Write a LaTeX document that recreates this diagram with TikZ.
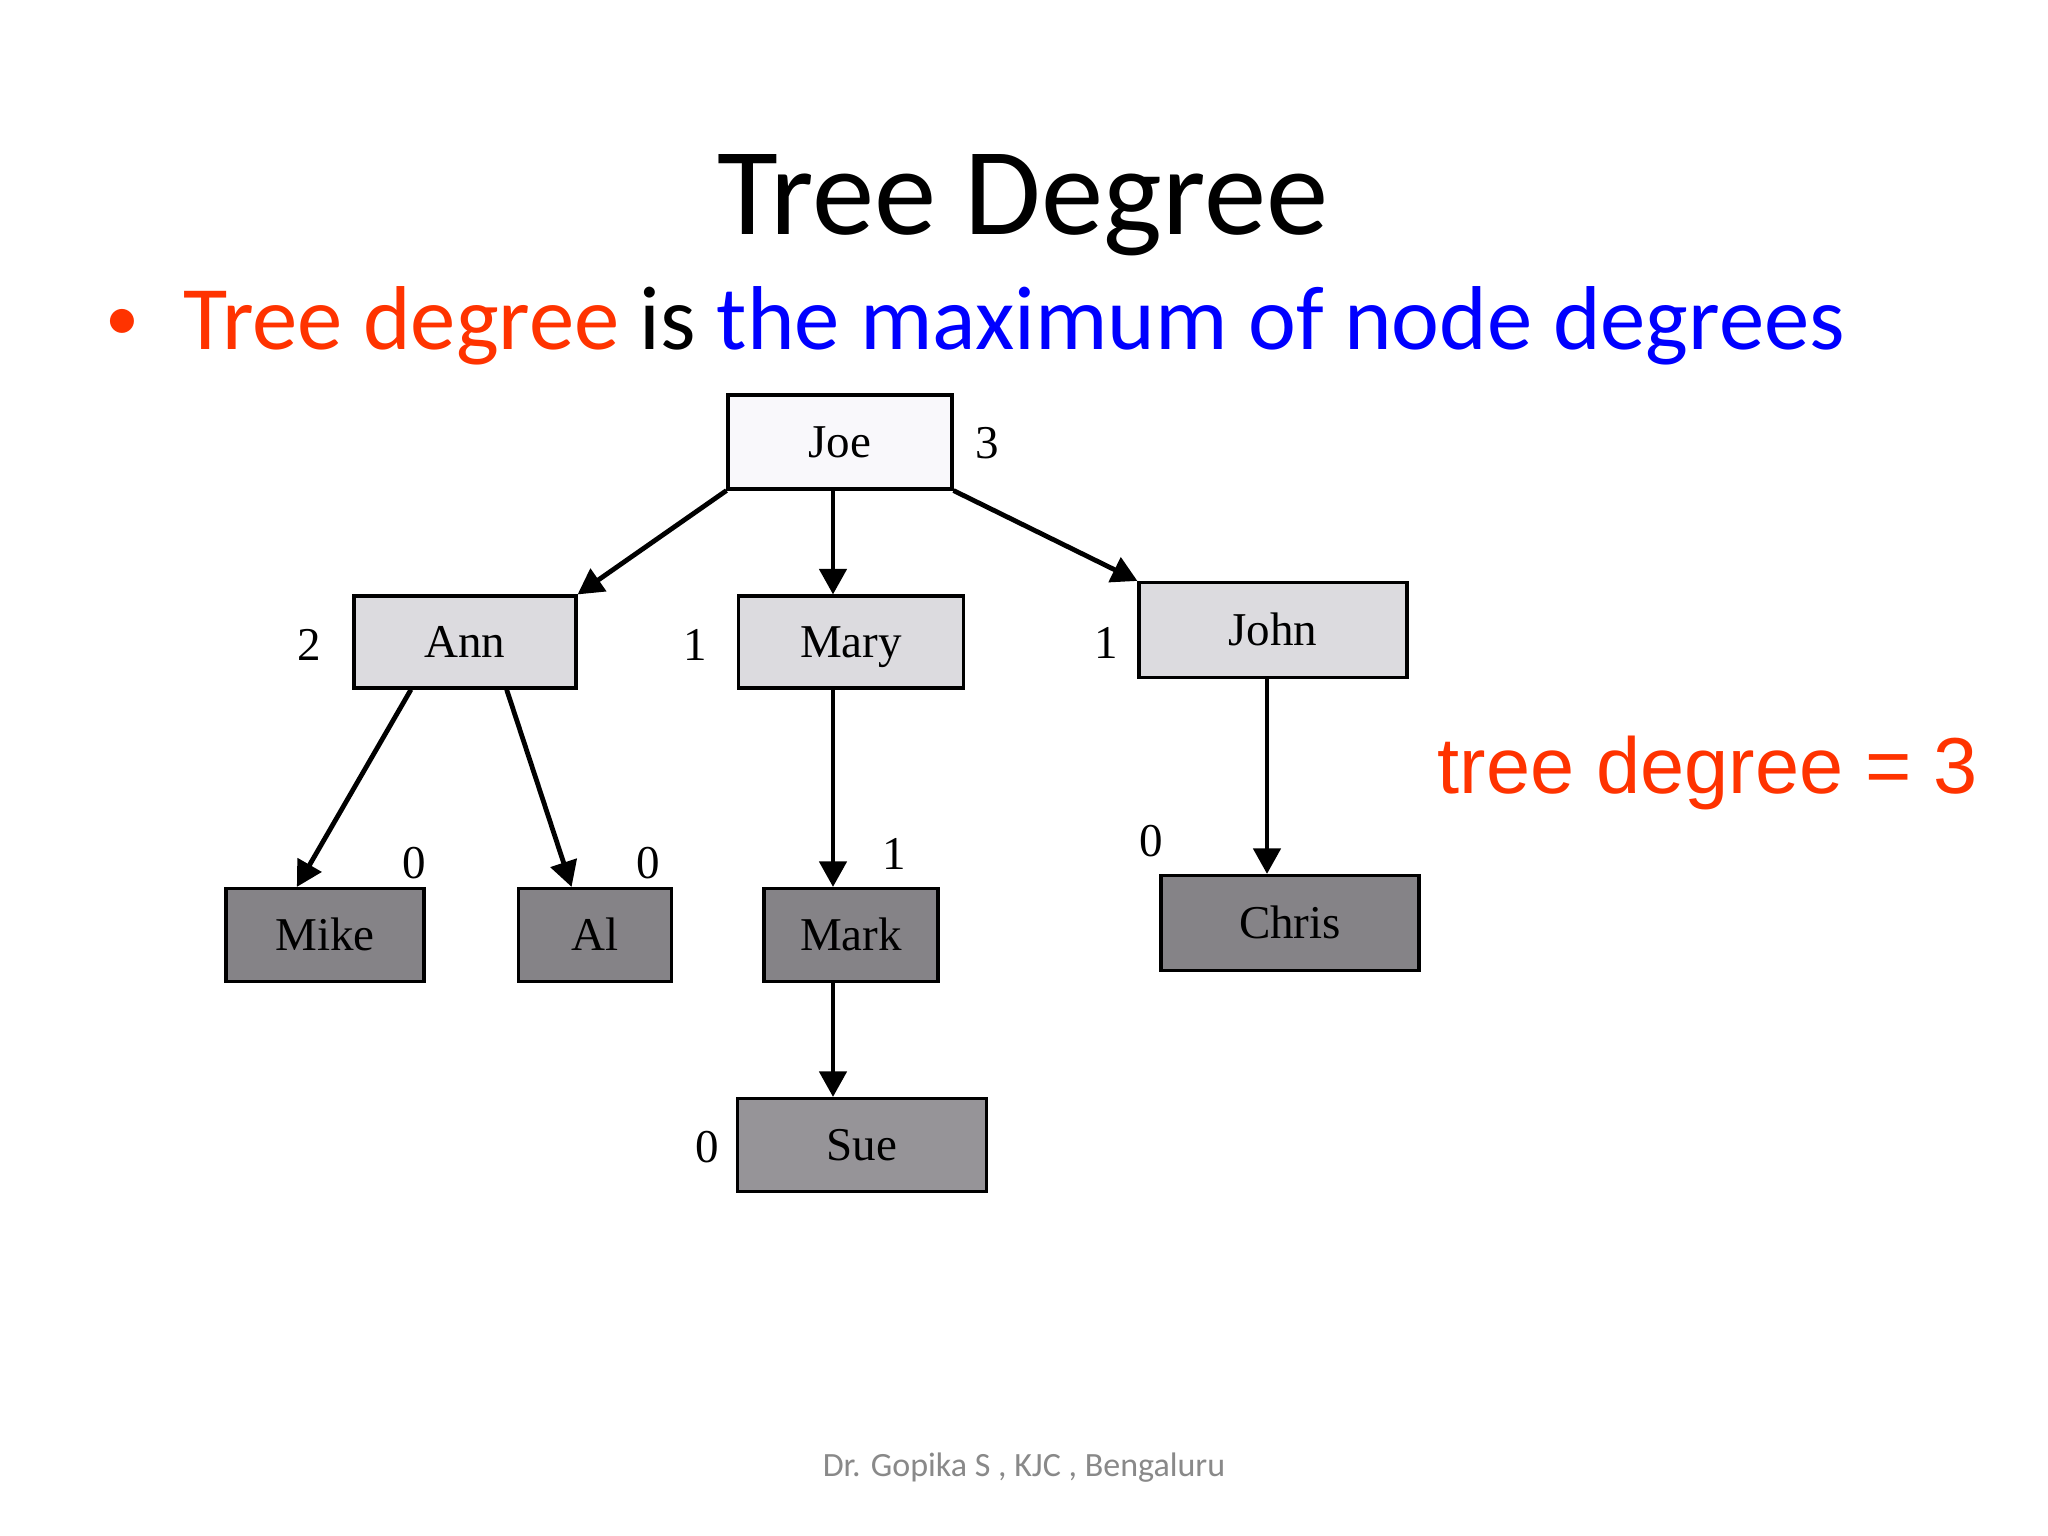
\documentclass[tikz,border=0pt]{standalone}
\usepackage{fontspec}
\setmainfont{Carlito}
\newfontfamily\timesfont{Liberation Serif}
\newfontfamily\arialfont{Liberation Sans}
\usetikzlibrary{arrows.meta,calc}
\definecolor{flame}{RGB}{255,51,0}
\definecolor{pureblue}{RGB}{0,0,255}
\definecolor{rootgray}{RGB}{249,248,251}
\definecolor{midgray}{RGB}{220,219,223}
\definecolor{leafgray}{RGB}{133,131,135}
\definecolor{suegray}{RGB}{150,148,152}
\definecolor{footgray}{RGB}{137,137,137}

\begin{document}
\begin{tikzpicture}[x=0.35288pt,y=0.35288pt,
    boxsize/.style 2 args={minimum width=#1*0.35288pt,minimum height=#2*0.35288pt},
    treebox/.style={draw,line width=1.1pt,inner sep=0pt,text height=11pt,text depth=0pt,
      font=\timesfont\fontsize{16.6}{18}\selectfont},
    deg/.style={inner sep=0pt,text height=11pt,text depth=0pt,
      font=\timesfont\fontsize{16.6}{18}\selectfont},
    edge/.style={line width=1.7pt,-{Triangle[length=9pt,width=9.5pt]}}]
  \fill[white] (0,0) rectangle (2048,-1536);
  \useasboundingbox (0,0) rectangle (2048,-1536);

  \node[font=\fontsize{44}{50}\selectfont,anchor=base] (title) at (1023,-235) {Tree Degree};
  \node[font=\fontsize{24}{30}\selectfont,text=flame,anchor=base] (bullet) at (122,-340) {•};
  \node[font=\fontsize{32}{38}\selectfont,anchor=base west,inner sep=0pt] (claim) at (183,-350)
    {\textcolor{flame}{Tree degree} is \textcolor{pureblue}{the maximum of node degrees}};

  \node[treebox,boxsize={224}{94},fill=rootgray] (Joe) at (840,-442) {Joe};
  \node[treebox,boxsize={222}{92},fill=midgray] (Ann) at (465,-642) {Ann};
  \node[treebox,boxsize={225}{92},fill=midgray] (Mary) at (851,-642) {Mary};
  \node[treebox,boxsize={268}{95},fill=midgray] (John) at (1273,-630) {John};
  \node[treebox,boxsize={198}{93},fill=leafgray] (Mike) at (325,-935) {Mike};
  \node[treebox,boxsize={153}{93},fill=leafgray] (Al) at (595,-935) {Al};
  \node[treebox,boxsize={174}{93},fill=leafgray] (Mark) at (851,-935) {Mark};
  \node[treebox,boxsize={258}{95},fill=leafgray] (Chris) at (1290,-923) {Chris};
  \node[treebox,boxsize={249}{93},fill=suegray] (Sue) at (862,-1145) {Sue};

  \node[deg] (dJoe) at (987,-443) {3};
  \node[deg] (dAnn) at (309,-645) {2};
  \node[deg] (dMary) at (695,-645) {1};
  \node[deg] (dJohn) at (1106,-643) {1};
  \node[deg] (dMike) at (414,-863) {0};
  \node[deg] (dAl) at (648,-863) {0};
  \node[deg] (dMark) at (894,-854) {1};
  \node[deg] (dChris) at (1151,-841) {0};
  \node[deg] (dSue) at (707,-1147) {0};

  \coordinate (spine) at (833,0);
  \coordinate (johnline) at (1267,0);
  \draw[edge] (Joe.south west) -- (Ann.north east);
  \draw[edge] (spine |- Joe.south) -- (spine |- Mary.north);
  \draw[edge] (Joe.south east) -- (John.north west);
  \draw[edge] ($(Ann.south west)!0.26!(Ann.south east)$) -- ($(Mike.north west)!0.36!(Mike.north east)$);
  \draw[edge] ($(Ann.south west)!0.685!(Ann.south east)$) -- ($(Al.north west)!0.35!(Al.north east)$);
  \draw[edge] (spine |- Mary.south) -- (spine |- Mark.north);
  \draw[edge] (johnline |- John.south) -- (johnline |- Chris.north);
  \draw[edge] (spine |- Mark.south) -- (spine |- Sue.north);

  \node[font=\arialfont\fontsize{28}{34}\selectfont,text=flame,anchor=base west,inner sep=0pt] (result)
    at (1437,-793) {tree degree = 3};
  \node[font=\fontsize{12}{14}\selectfont,text=footgray,anchor=base] (footer) at (1024,-1476)
    {Dr. Gopika S , KJC , Bengaluru};
\end{tikzpicture}
\end{document}
